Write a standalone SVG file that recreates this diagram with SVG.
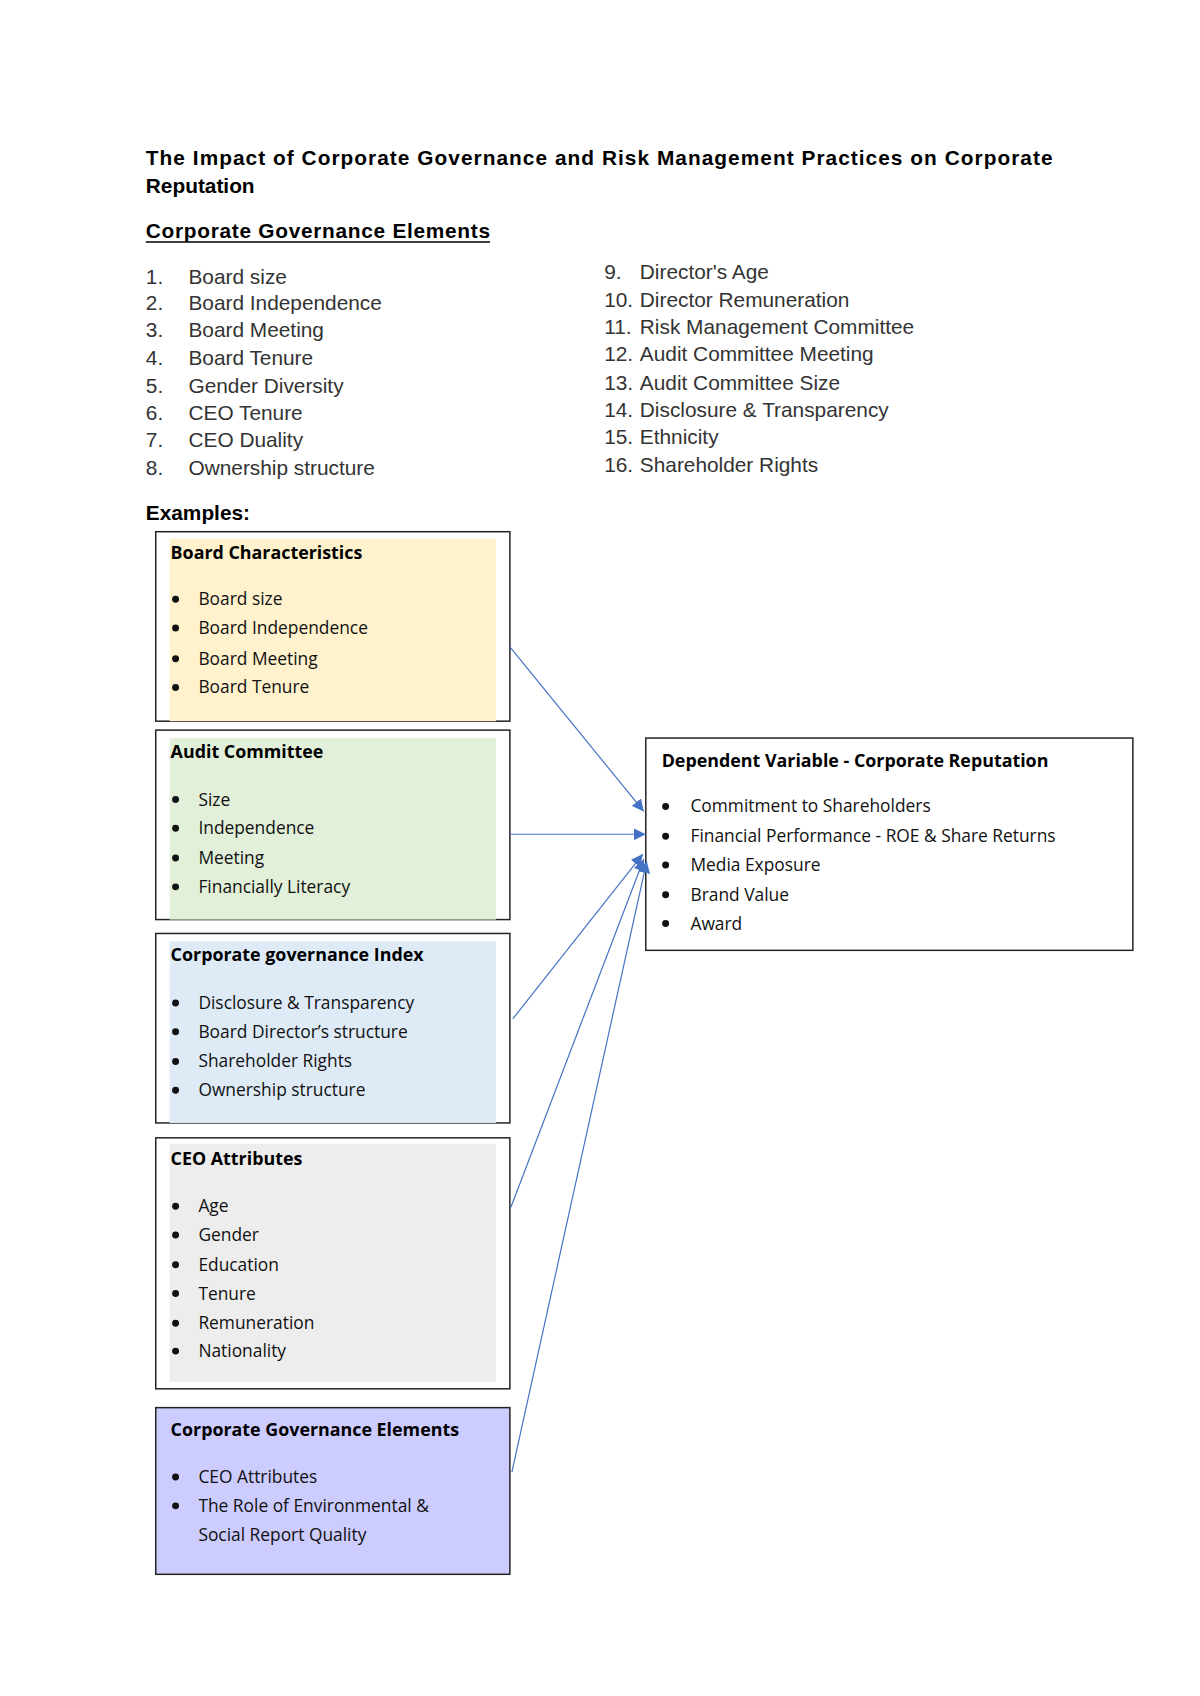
<svg xmlns="http://www.w3.org/2000/svg" width="1200" height="1696" viewBox="0 0 1200 1696">
<style>
.t{font-family:"Liberation Sans",Arial,sans-serif;fill:#000}
.b{font-weight:bold}
.l{font-family:"Liberation Sans",Arial,sans-serif;font-size:21px;fill:#333}
.box{fill:#fff;stroke:#222;stroke-width:1.5}
.h{font-family:"Open Sans","Liberation Sans",sans-serif;font-size:18px;font-weight:bold;fill:#000}
.i{font-family:"Open Sans","Liberation Sans",sans-serif;font-size:17.5px;fill:#111}
.c{fill:none;stroke:#4472c4;stroke-width:1.2}
</style>
<defs><marker id="a" viewBox="0 0 10 10" refX="10" refY="5" markerWidth="10" markerHeight="10" orient="auto"><path d="M0,0L10,5L0,10z" fill="#4472c4"/></marker></defs>
<rect width="1200" height="1696" fill="#fff"/>
<g transform="scale(0.992)">
<g id="header">
<text class="t b" x="147" y="166" font-size="21" textLength="914">The Impact of Corporate Governance and Risk Management Practices on Corporate</text>
<text class="t b" x="147" y="195" font-size="21">Reputation</text>
<text class="t b" x="147" y="240" font-size="21" textLength="347">Corporate Governance Elements</text>
<line x1="147" y1="244" x2="494" y2="244" stroke="#000" stroke-width="1.5"/>
<g class="l">
<text x="147" y="286">1.</text><text x="190" y="286">Board size</text>
<text x="147" y="313">2.</text><text x="190" y="313">Board Independence</text>
<text x="147" y="340">3.</text><text x="190" y="340">Board Meeting</text>
<text x="147" y="368">4.</text><text x="190" y="368">Board Tenure</text>
<text x="147" y="396">5.</text><text x="190" y="396">Gender Diversity</text>
<text x="147" y="423">6.</text><text x="190" y="423">CEO Tenure</text>
<text x="147" y="451">7.</text><text x="190" y="451">CEO Duality</text>
<text x="147" y="479">8.</text><text x="190" y="479">Ownership structure</text>
<text x="609" y="281">9.</text><text x="645" y="281">Director's Age</text>
<text x="609" y="309">10.</text><text x="645" y="309">Director Remuneration</text>
<text x="609" y="337">11.</text><text x="645" y="337">Risk Management Committee</text>
<text x="609" y="364">12.</text><text x="645" y="364">Audit Committee Meeting</text>
<text x="609" y="393">13.</text><text x="645" y="393">Audit Committee Size</text>
<text x="609" y="420">14.</text><text x="645" y="420">Disclosure &amp; Transparency</text>
<text x="609" y="448">15.</text><text x="645" y="448">Ethnicity</text>
<text x="609" y="476">16.</text><text x="645" y="476">Shareholder Rights</text>
</g>
<text class="t b" x="147" y="524" font-size="21">Examples:</text>
</g>
<g id="board">
<rect class="box" x="157" y="536" width="357" height="191"/>
<rect x="171" y="543" width="329" height="184" fill="#fff2cc"/>
<text class="h" x="172" y="564">Board Characteristics</text>
<g class="i"><circle cx="177" cy="604" r="3.5"/><text x="200" y="610">Board size</text>
<circle cx="177" cy="633" r="3.5"/><text x="200" y="639">Board Independence</text>
<circle cx="177" cy="664" r="3.5"/><text x="200" y="670">Board Meeting</text>
<circle cx="177" cy="693" r="3.5"/><text x="200" y="699">Board Tenure</text></g>
</g>
<g id="audit">
<rect class="box" x="157" y="736" width="357" height="191"/>
<rect x="171" y="744" width="329" height="183" fill="#e2efd9"/>
<text class="h" x="172" y="764">Audit Committee</text>
<g class="i"><circle cx="177" cy="806" r="3.5"/><text x="200" y="812">Size</text>
<circle cx="177" cy="835" r="3.5"/><text x="200" y="841">Independence</text>
<circle cx="177" cy="865" r="3.5"/><text x="200" y="871">Meeting</text>
<circle cx="177" cy="894" r="3.5"/><text x="200" y="900">Financially Literacy</text></g>
</g>
<g id="cgindex">
<rect class="box" x="157" y="941" width="357" height="191"/>
<rect x="171" y="949" width="329" height="183" fill="#deebf7"/>
<text class="h" x="172" y="969">Corporate governance Index</text>
<g class="i"><circle cx="177" cy="1011" r="3.5"/><text x="200" y="1017">Disclosure &amp; Transparency</text>
<circle cx="177" cy="1040" r="3.5"/><text x="200" y="1046">Board Director’s structure</text>
<circle cx="177" cy="1070" r="3.5"/><text x="200" y="1076">Shareholder Rights</text>
<circle cx="177" cy="1099" r="3.5"/><text x="200" y="1105">Ownership structure</text></g>
</g>
<g id="ceo">
<rect class="box" x="157" y="1147" width="357" height="253"/>
<rect x="171" y="1153" width="329" height="240" fill="#ededed"/>
<text class="h" x="172" y="1174">CEO Attributes</text>
<g class="i"><circle cx="177" cy="1216" r="3.5"/><text x="200" y="1222">Age</text>
<circle cx="177" cy="1245" r="3.5"/><text x="200" y="1251">Gender</text>
<circle cx="177" cy="1275" r="3.5"/><text x="200" y="1281">Education</text>
<circle cx="177" cy="1304" r="3.5"/><text x="200" y="1310">Tenure</text>
<circle cx="177" cy="1334" r="3.5"/><text x="200" y="1340">Remuneration</text>
<circle cx="177" cy="1362" r="3.5"/><text x="200" y="1368">Nationality</text></g>
</g>
<g id="cge">
<rect x="157" y="1419" width="357" height="168" fill="#ccccff" stroke="#222" stroke-width="1.5"/>
<text class="h" x="172" y="1448">Corporate Governance Elements</text>
<g class="i"><circle cx="177" cy="1489" r="3.5"/><text x="200" y="1495">CEO Attributes</text>
<circle cx="177" cy="1518" r="3.5"/><text x="200" y="1524">The Role of Environmental &amp;</text>
<text x="200" y="1553">Social Report Quality</text></g>
</g>
<g id="dependent">
<rect class="box" x="651" y="744" width="491" height="214"/>
<text class="h" x="667" y="773">Dependent Variable - Corporate Reputation</text>
<g class="i"><circle cx="671" cy="813" r="3.5"/><text x="696" y="819">Commitment to Shareholders</text>
<circle cx="671" cy="843" r="3.5"/><text x="696" y="849">Financial Performance - ROE &amp; Share Returns</text>
<circle cx="671" cy="872" r="3.5"/><text x="696" y="878">Media Exposure</text>
<circle cx="671" cy="902" r="3.5"/><text x="696" y="908">Brand Value</text>
<circle cx="671" cy="931" r="3.5"/><text x="696" y="937">Award</text></g>
</g>
<g id="connectors">
<line class="c" x1="514" y1="652" x2="649" y2="818" marker-end="url(#a)"/>
<line class="c" x1="514" y1="841" x2="651" y2="841" marker-end="url(#a)"/>
<line class="c" x1="517" y1="1027" x2="648" y2="861" marker-end="url(#a)"/>
<line class="c" x1="515" y1="1217" x2="649" y2="866" marker-end="url(#a)"/>
<line class="c" x1="516" y1="1484" x2="652" y2="868" marker-end="url(#a)"/>
</g>
</g>
</svg>
